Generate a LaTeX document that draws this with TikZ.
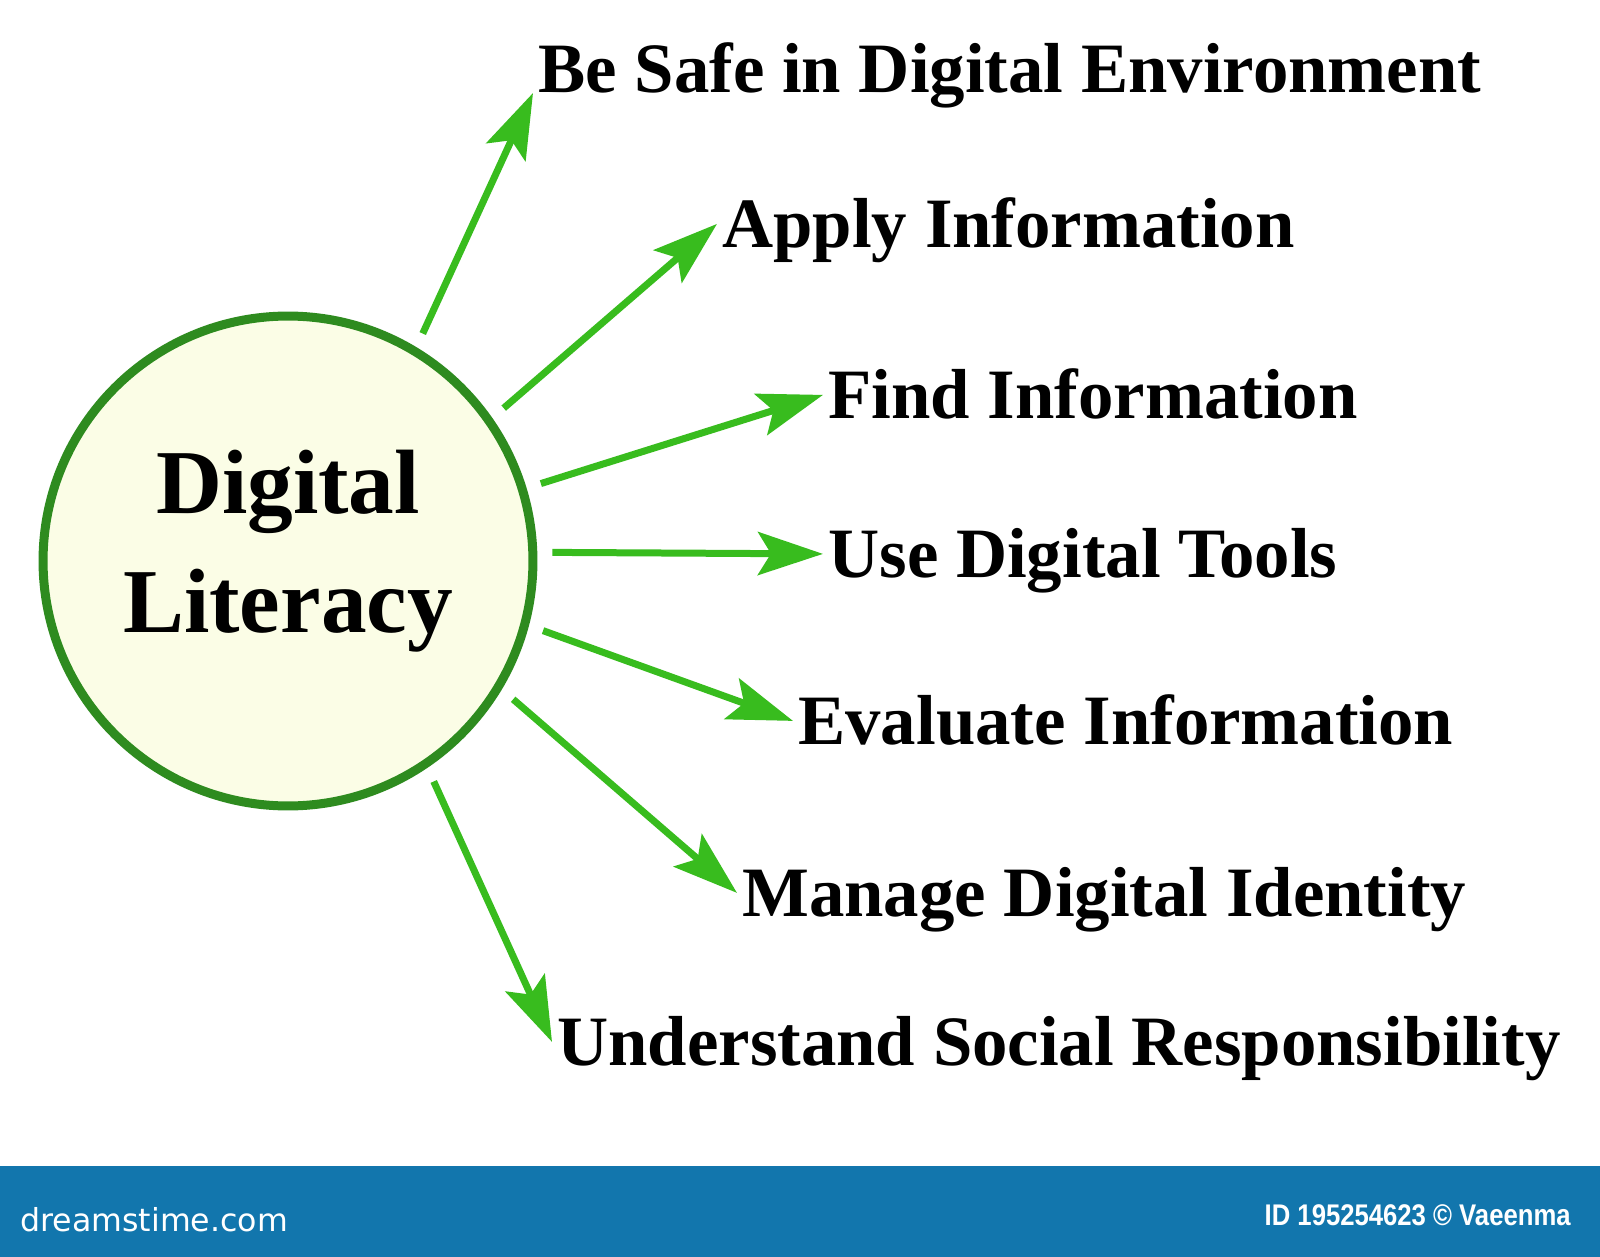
\documentclass[tikz,border=0pt]{standalone}
\usepackage{fontspec}
\setmainfont{Liberation Serif}
\newfontfamily\logofont{DejaVu Sans}
\newfontfamily\idfont[FakeStretch=0.86]{Liberation Sans}
\usetikzlibrary{arrows.meta}
\usepackage{xcolor}

\definecolor{ringgreen}{HTML}{2E8B1F}
\definecolor{arrowgreen}{HTML}{38BC1E}
\definecolor{discfill}{HTML}{FBFDE6}
\definecolor{bannerblue}{HTML}{1276AD}

\tikzset{
  hub/.style={circle,draw=ringgreen,fill=discfill,line width=0.18cm,minimum size=9.8cm,inner sep=0pt},
  hubtext/.style={align=center,font=\fontsize{52}{68}\selectfont\bfseries},
  topic/.style={anchor=south west,inner xsep=0.1cm,inner ysep=0pt,text height=0.95cm,text depth=0pt,font=\fontsize{40.3}{48}\selectfont\bfseries},
  branch/.style={draw=arrowgreen,line width=0.14cm,shorten <=0.3cm,-{Stealth[length=1.3cm,width=0.86cm,inset=0.26cm]}}
}

\begin{document}
\begin{tikzpicture}[x=0.02cm,y=-0.02cm]
\useasboundingbox (0,0) rectangle (1600,1257);
% centre disc
\node[hub] (dl) at (288,561) {};
\node[hubtext] (dltext) at ([yshift=0.2cm]dl.center) {Digital\\Literacy};
% topics
\node[topic] (safe) at (533,93) {Be Safe in Digital Environment};
\node[topic] (apply) at (717,248) {Apply Information};
\node[topic] (find) at (823,419) {Find Information};
\node[topic] (tools) at (823,578) {Use Digital Tools};
\node[topic] (evaluate) at (793,745) {Evaluate Information};
\node[topic] (identity) at (737,917) {Manage Digital Identity};
\node[topic] (social) at (552,1066) {Understand Social Responsibility};
\foreach \a/\n/\t in {59/safe/south west,35.2/apply/west,17.5/find/west,2.2/tools/west,
  -15.3/evaluate/west,-31.8/identity/west,-56.3/social/west}
\draw[branch] (dl.\a) -- (\n.\t);
% banner
\fill[bannerblue] (0,1166) rectangle (1600,1257);
\node[anchor=base west,inner sep=0pt,text=white,font=\logofont\fontsize{18}{20}\selectfont] (logo) at (20,1231) {dreamstime.com};
\node[anchor=base east,inner sep=0pt,text=white,font=\idfont\bfseries\fontsize{17}{20}\selectfont] (stockid) at (1571,1225) {ID 195254623 \textcopyright{} Vaeenma};
\end{tikzpicture}
\end{document}
